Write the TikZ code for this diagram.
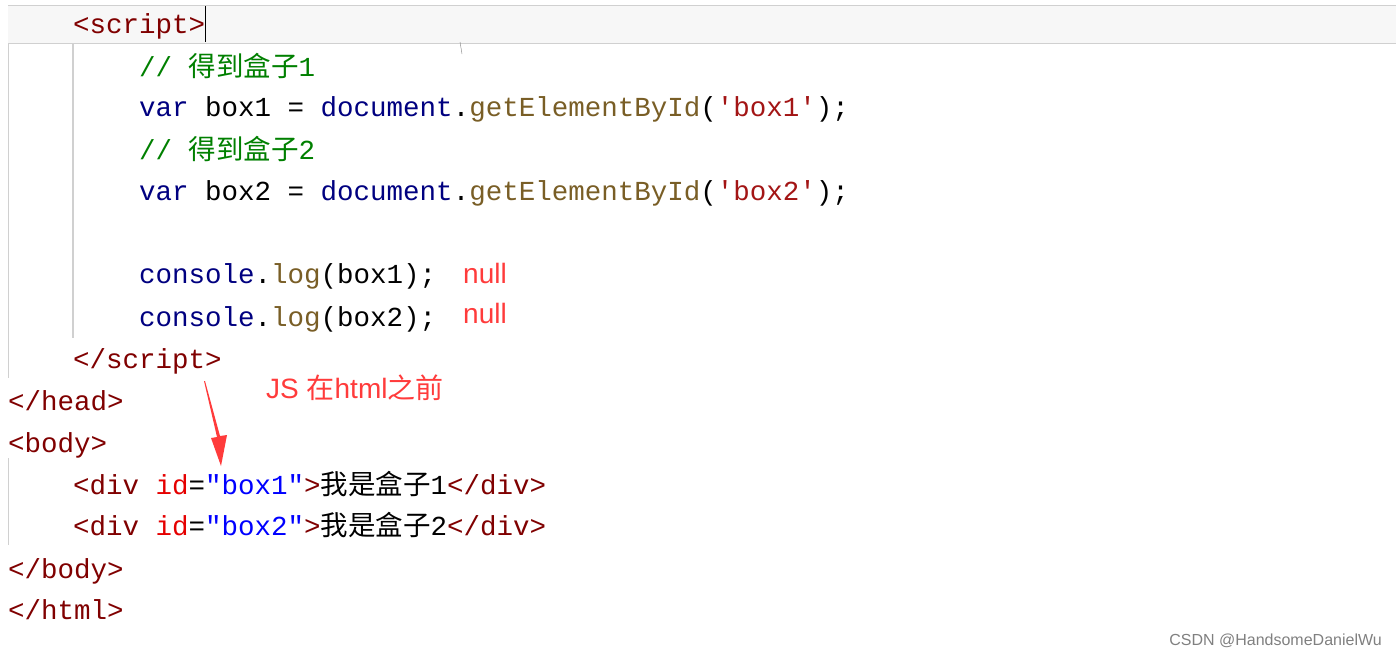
\documentclass[tikz,border=0pt]{standalone}
\usepackage{fontspec}
\newfontfamily\mono{Liberation Mono}
\newfontfamily\cjk{Noto Sans CJK SC}
\setsansfont{Liberation Sans}
\definecolor{tag}{HTML}{800000}
\definecolor{kw}{HTML}{000080}
\definecolor{cm}{HTML}{008000}
\definecolor{fn}{HTML}{795E26}
\definecolor{st}{HTML}{A31515}
\definecolor{at}{HTML}{E50000}
\definecolor{av}{HTML}{0000FF}
\definecolor{ann}{HTML}{FF3B3B}
\definecolor{guide}{HTML}{D0D0D0}
\begin{document}
\begin{tikzpicture}[x=1pt,y=-1pt,
  code/.style={anchor=base west,inner sep=0pt,font=\mono\fontsize{27.5}{30}\selectfont},
  note/.style={anchor=base west,inner sep=0pt,text=ann,font=\sffamily\fontsize{28}{30}\selectfont}]
\useasboundingbox[fill=white] (0,0) rectangle (1396,656);
\fill[white!97!black] (8,5) rectangle (1396,43);
\draw[guide] (8,43) -- (1396,43);
\draw[guide] (8,5) -- (1396,5);
\draw[guide,line width=1.5pt] (73,43) -- (73,338);
\draw[guide] (8,43) -- (8,378);
\draw[guide] (8,458) -- (8,545);
\draw[black] (205,6) -- (205,42);
\draw[gray] (460,42) -- (462,54);
\node[code] (l1) at (73,33) {\textcolor{tag}{<script>}};
\node[code] (l2) at (139,76) {\textcolor{cm}{// {\cjk 得到盒子}1}};
\node[code] (l3) at (139,116) {\textcolor{kw}{var} box1 = \textcolor{kw}{document}.\textcolor{fn}{getElementById}(\textcolor{st}{'box1'});};
\node[code] (l4) at (139,159) {\textcolor{cm}{// {\cjk 得到盒子}2}};
\node[code] (l5) at (139,200) {\textcolor{kw}{var} box2 = \textcolor{kw}{document}.\textcolor{fn}{getElementById}(\textcolor{st}{'box2'});};
\node[code] (l6) at (139,283) {\textcolor{kw}{console}.\textcolor{fn}{log}(box1);};
\node[code] (l7) at (139,326) {\textcolor{kw}{console}.\textcolor{fn}{log}(box2);};
\node[note] (n1) at (463,283) {null};
\node[note] (n2) at (463,323) {null};
\node[code] (l8) at (73,368) {\textcolor{tag}{</script>}};
\node[code] (l9) at (8,410) {\textcolor{tag}{</head>}};
\node[code] (l10) at (8,452) {\textcolor{tag}{<body>}};
\node[code] (l11) at (73,494) {\textcolor{tag}{<div} \textcolor{at}{id}=\textcolor{av}{"box1"}\textcolor{tag}{>}{\cjk 我是盒子}1\textcolor{tag}{</div>}};
\node[code] (l12) at (73,535) {\textcolor{tag}{<div} \textcolor{at}{id}=\textcolor{av}{"box2"}\textcolor{tag}{>}{\cjk 我是盒子}2\textcolor{tag}{</div>}};
\node[code] (l13) at (8,578) {\textcolor{tag}{</body>}};
\node[code] (l14) at (8,619) {\textcolor{tag}{</html>}};
\node[note] (js) at (266,398) {JS {\cjk 在}html{\cjk 之前}};
\coordinate (a0) at (203,381);
\coordinate (a1) at (221,466);
\fill[ann] (a1) -- (211,438) -- (217,437) -- (204,381) -- (205,381) -- (220,436) -- (227,435) -- cycle;
\node[anchor=base east,inner sep=0pt,text=gray,font=\sffamily\fontsize{16}{18}\selectfont] (wm) at (1382,645) {CSDN @HandsomeDanielWu};
\end{tikzpicture}
\end{document}
